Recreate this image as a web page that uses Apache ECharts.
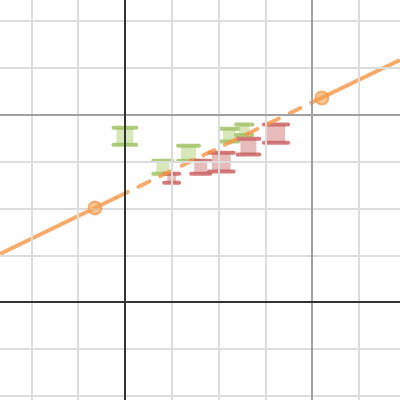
<!DOCTYPE html><html><head><meta charset="utf-8">
<script src="https://cdn.jsdelivr.net/npm/echarts@6/dist/echarts.min.js"></script>
<style>html,body{margin:0;padding:0;background:#fff}#c{width:400px;height:400px}</style></head>
<body><div id="c"></div><script>
const xGrid=[-2,-1,1,2,3,5];
const yGrid=[-2,-1,1,2,3,5,6];
const boxX=[0,0.81,1.00,1.36,1.62,2.06,2.23,2.55,2.64,3.23];
const boxTop=[3.72,3.02,2.74,3.34,3.02,3.19,3.70,3.79,3.49,3.79];
const boxBot=[3.36,2.74,2.55,3.02,2.74,2.79,3.43,3.57,3.15,3.40];
const boxSign=[1,1,-1,1,-1,-1,1,1,-1,-1];
const solidA=[[-2.67,1.03],[-0.17,2.24]];
const dashed=[[-0.17,2.24],[3.95,4.24]];
const solidB=[[3.95,4.24],[5.88,5.17]];
const dots=[[-0.64,2.01],[4.21,4.36]];
const orange='rgba(245,150,70,0.8)';
const gl=(v,c,w)=>({xAxis:v,lineStyle:{color:c,width:w,type:'solid'}});
const glY=(v,c,w)=>({yAxis:v,lineStyle:{color:c,width:w,type:'solid'}});
const marks=[...xGrid.map(v=>gl(v,'#dcdcdc',2)),...yGrid.map(v=>glY(v,'#dcdcdc',2)),gl(4,'#a0a0a0',2),glY(4,'#a0a0a0',2),gl(0,'#333',2),glY(0,'#333',2)];
const boxes=boxX.map((x,i)=>[x,boxTop[i],boxBot[i],boxSign[i]]);
const chart=echarts.init(document.getElementById('c'));
chart.setOption({animation:false,
grid:{left:0,right:0,top:0,bottom:0},
xAxis:{type:'value',min:-2.67,max:5.88,show:false},
yAxis:{type:'value',min:-2.09,max:6.45,show:false},
series:[
{type:'line',data:[],markLine:{silent:true,symbol:'none',label:{show:false},data:marks},z:1},
{type:'custom',z:3,data:boxes,encode:{x:0,y:[1,2]},renderItem:(p,api)=>{
 const x=api.value(0),t=api.coord([x,api.value(1)]),b=api.coord([x,api.value(2)]);
 const h=b[1]-t[1],w=h,g=api.value(3)>0;
 const fill=g?'rgba(190,215,140,0.6)':'rgba(210,120,120,0.5)';
 const cap=g?'rgba(160,195,100,0.85)':'rgba(200,90,90,0.8)';
 const cw=w/2+3;
 return {type:'group',children:[
  {type:'rect',shape:{x:t[0]-w/2,y:t[1],width:w,height:h},style:{fill:fill}},
  {type:'line',shape:{x1:t[0]-cw,y1:t[1],x2:t[0]+cw,y2:t[1]},style:{stroke:cap,lineWidth:4,lineCap:'round'}},
  {type:'line',shape:{x1:t[0]-cw,y1:b[1],x2:t[0]+cw,y2:b[1]},style:{stroke:cap,lineWidth:4,lineCap:'round'}}]};}},
{type:'line',data:solidA,symbol:'none',lineStyle:{color:orange,width:4},z:4},
{type:'line',data:dashed,symbol:'none',lineStyle:{color:orange,width:4,type:[12,12],cap:'round'},z:4},
{type:'line',data:solidB,symbol:'none',lineStyle:{color:orange,width:4},z:4},
{type:'scatter',data:dots,symbolSize:13,itemStyle:{color:'rgba(245,160,80,0.75)',borderColor:'rgba(245,150,70,0.9)',borderWidth:2},z:5}
]});
</script></body></html>
